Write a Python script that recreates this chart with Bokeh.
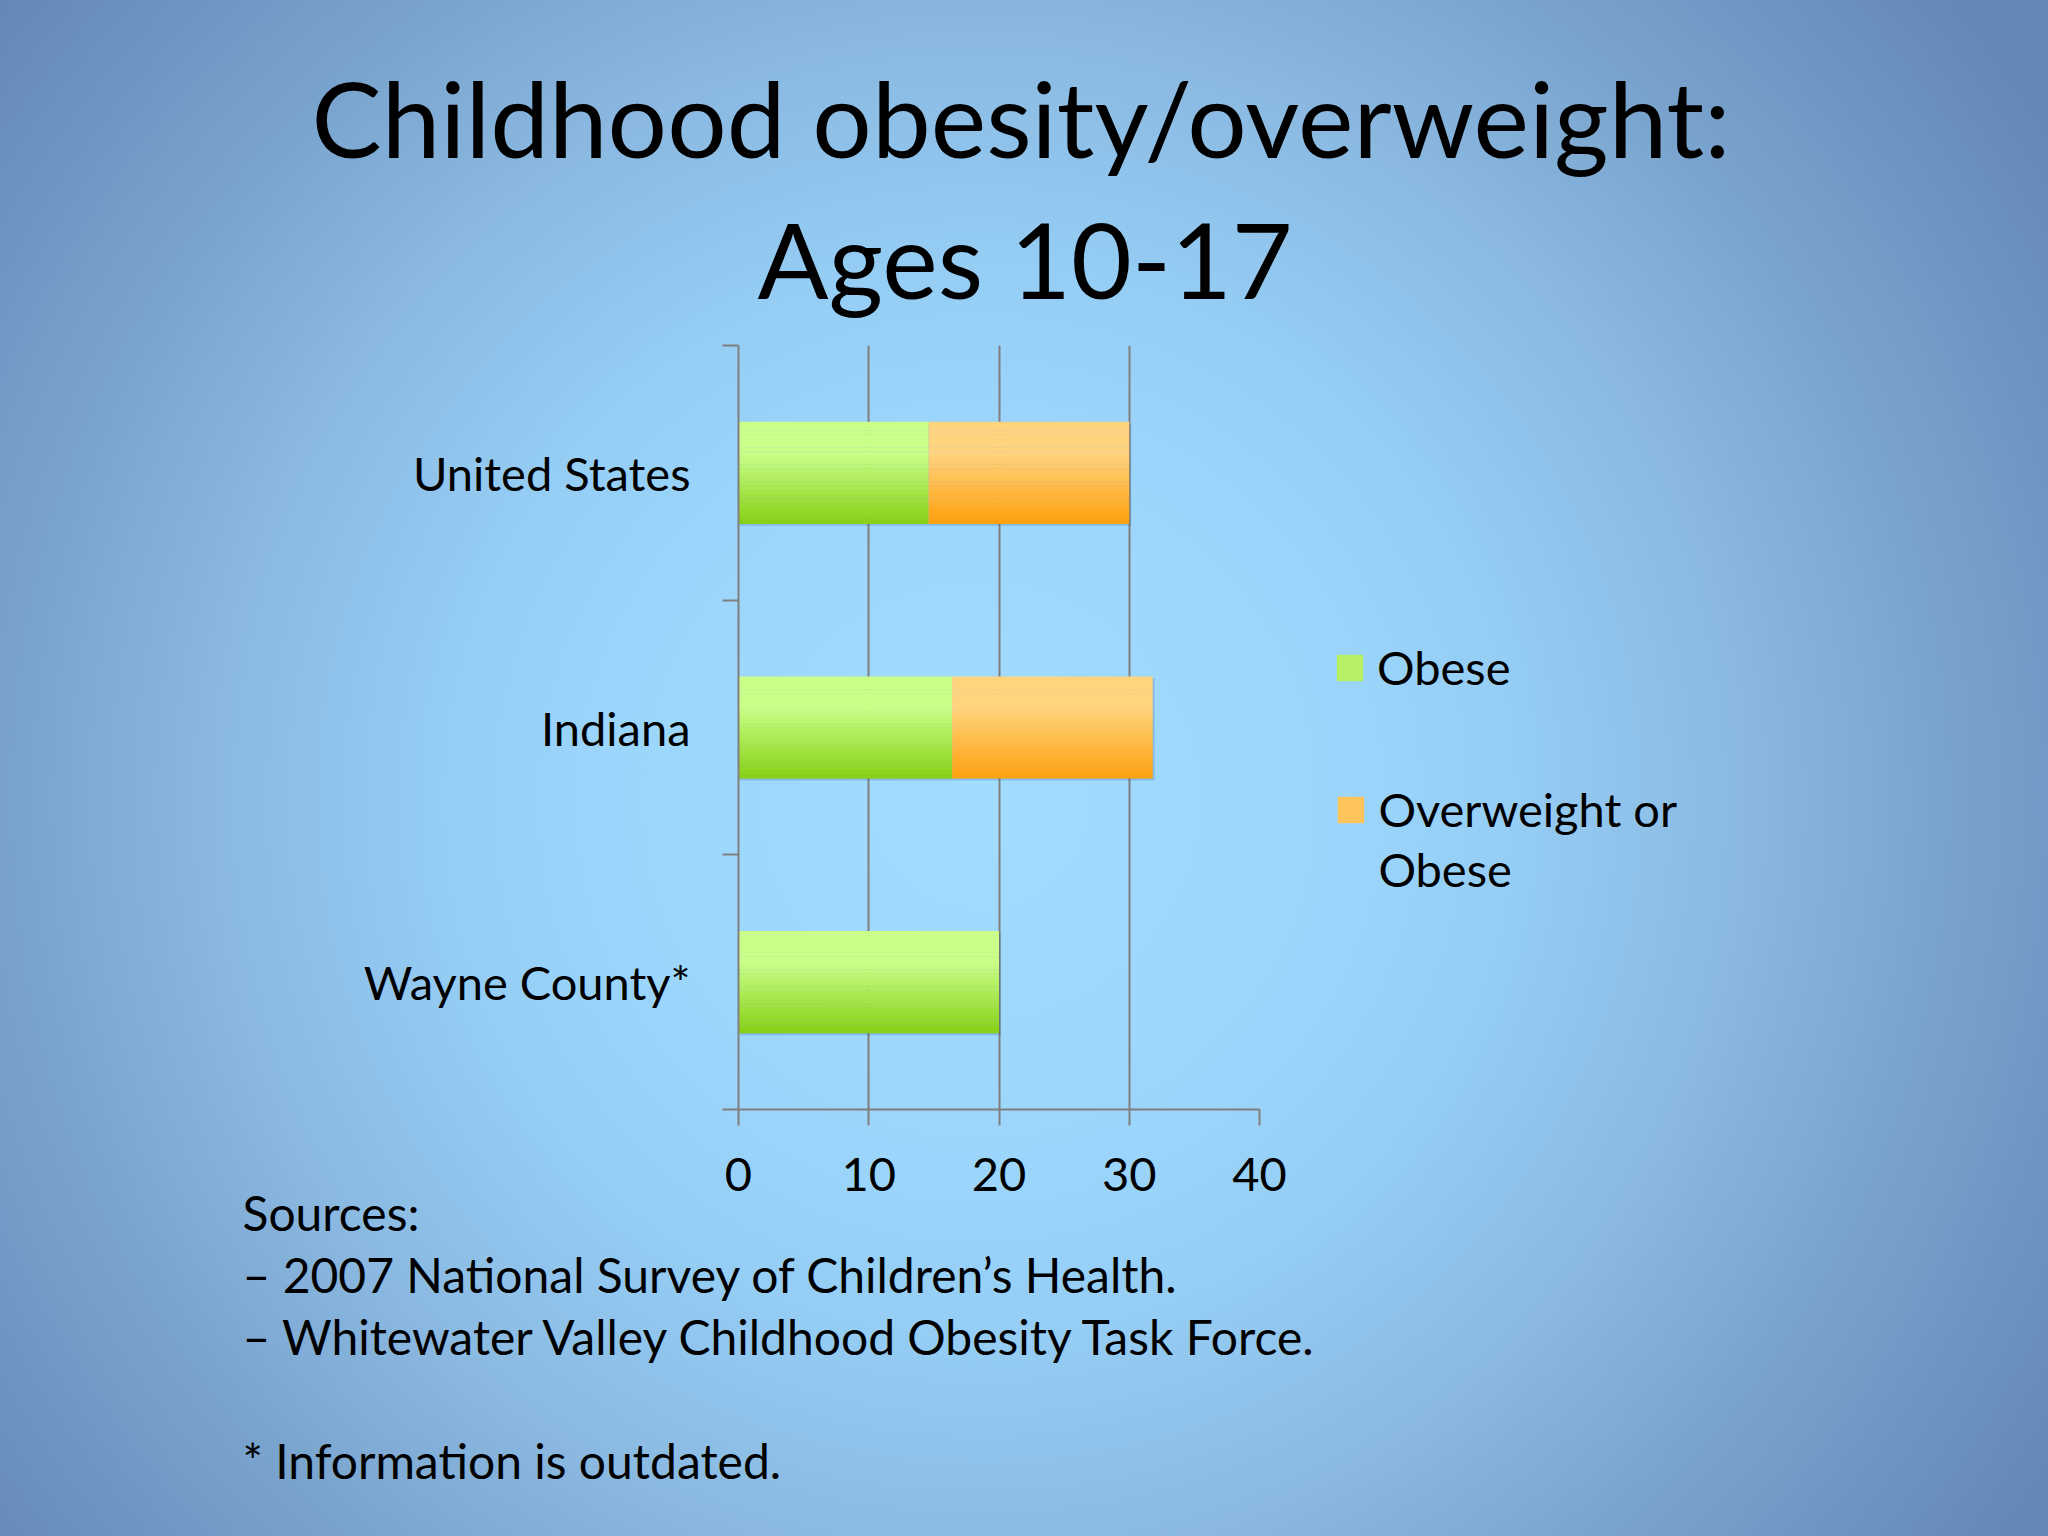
from bokeh.plotting import figure
from bokeh.models import Range1d, FixedTicker, Legend, LegendItem, Title
from bokeh.embed import file_html
from bokeh.resources import INLINE

# ---- data -------------------------------------------------------------
categories = ["United States", "Indiana", "Wayne County*"]
obese = [14.6, 16.4, 20.0]
overweight_or_obese = [15.4, 15.4, 0.0]   # stacked after the obese share
x_ticks = [0, 10, 20, 30, 40]
series_names = ["Obese", "Overweight or", "Obese"]
title_lines = ["Childhood obesity/overweight:", "Ages 10-17"]
source_text = ("Sources:\n"
               "\u2013 2007 National Survey of Children\u2019s Health.\n"
               "\u2013 Whitewater Valley Childhood Obesity Task Force.\n"
               "\n"
               "* Information is outdated.")

# ---- styling ----------------------------------------------------------
FONT = "Lato"
LEFT, RIGHT, TOP, BOTTOM = 738, 789, 345, 427
FRAME_W, FRAME_H = 521, 764
AXIS_GREY = "#7f7f7f"
LABEL_SIZE = "47px"
NOTE_SIZE = "48px"
HEAD_SIZE = "105px"
BAR_H = 0.4
STRIPS = 24
GREEN = ("#cbff8a", "#86d014")
ORANGE = ("#ffd47e", "#ffa00e")


def hex_rgb(c):
    c = c.lstrip("#")
    return [int(c[i:i + 2], 16) for i in (0, 2, 4)]


def ramp(top, bottom, t):
    s = max(0.0, (t - 0.3) / 0.7)
    a, b = hex_rgb(top), hex_rgb(bottom)
    return "#%02x%02x%02x" % tuple(round(a[i] + (b[i] - a[i]) * s) for i in range(3))


n = len(categories)
y_pos = [n - i - 0.5 for i in range(n)]

p = figure(
    frame_width=FRAME_W, frame_height=FRAME_H,
    x_range=Range1d(0, 40), y_range=Range1d(0, n),
    output_backend="svg", toolbar_location=None,
    min_border_left=LEFT, min_border_right=RIGHT,
    min_border_top=TOP, min_border_bottom=BOTTOM,
)
p.styles = {
    "background": "radial-gradient(circle 1280px at 980px 800px, "
                  "#a2ddff 0%, #9bd5fb 30%, #95cdf5 42%, #8ab8e0 60%, "
                  "#7aa5cf 74%, #6386b5 100%)",
}
p.background_fill_alpha = 0
p.border_fill_alpha = 0
p.outline_line_color = None

stack_top = [obese[i] + overweight_or_obese[i] for i in range(n)]

# soft drop shadow under each whole bar
p.hbar(y=[y - 0.008 for y in y_pos], left=[0.1] * n,
       right=[v + 0.15 for v in stack_top], height=BAR_H,
       fill_color="#1a3a5a", fill_alpha=0.18, line_color=None)


def draw_series(lefts, rights, colors):
    keep = [i for i in range(n) if rights[i] - lefts[i] > 0]
    mid = None
    for k in range(STRIPS):
        t = (k + 0.5) / STRIPS
        ys = [y_pos[i] + BAR_H / 2 - t * BAR_H for i in keep]
        r = p.hbar(
            y=ys,
            left=[lefts[i] for i in keep],
            right=[rights[i] for i in keep],
            height=BAR_H / STRIPS * 1.08,
            fill_color=ramp(colors[0], colors[1], t),
            line_color=None,
        )
        if k == STRIPS // 2:
            mid = r
    return mid


r_obese = draw_series([0.0] * n, obese, GREEN)
r_over = draw_series(obese, stack_top, ORANGE)
# empty, transparent renderer: lets the wrapped legend line carry no swatch
r_blank = p.hbar(y=[], left=[], right=[], height=0.1, fill_alpha=0, line_alpha=0)

# ---- axes -------------------------------------------------------------
xa = p.xaxis[0]
xa.ticker = FixedTicker(ticks=x_ticks)
xa.axis_line_color = AXIS_GREY
xa.axis_line_width = 2
xa.major_tick_line_color = AXIS_GREY
xa.major_tick_line_width = 2
xa.major_tick_in = 0
xa.major_tick_out = 16
xa.minor_tick_line_color = None
xa.major_label_text_font = FONT
xa.major_label_text_font_size = LABEL_SIZE
xa.major_label_text_color = "#000000"
xa.major_label_standoff = 32

ya = p.yaxis[0]
ya.ticker = FixedTicker(ticks=y_pos, minor_ticks=list(range(n + 1)))
ya.major_label_overrides = {y_pos[i]: categories[i] for i in range(n)}
ya.axis_line_color = AXIS_GREY
ya.axis_line_width = 2
ya.major_tick_line_color = None
ya.major_tick_out = 0
ya.major_tick_in = 0
ya.minor_tick_line_color = AXIS_GREY
ya.minor_tick_line_width = 2
ya.minor_tick_in = 0
ya.minor_tick_out = 16
ya.major_label_text_font = FONT
ya.major_label_text_font_size = LABEL_SIZE
ya.major_label_text_color = "#000000"
ya.major_label_standoff = 32

p.xgrid.grid_line_color = AXIS_GREY
p.xgrid.grid_line_width = 2
p.ygrid.grid_line_color = None

# ---- legend (two blocks so the wrapped label keeps its swatch on line one)
GLYPH = 33
STANDOFF = 11
legend_style = dict(
    orientation="vertical",
    glyph_width=GLYPH, glyph_height=GLYPH,
    label_standoff=STANDOFF,
    label_text_font=FONT, label_text_font_size=LABEL_SIZE,
    label_text_color="#000000",
    padding=0, margin=0,
    border_line_color=None, background_fill_alpha=0,
)
leg_a = Legend(items=[LegendItem(label=series_names[0], renderers=[r_obese])],
               location=(74, 414), spacing=0, **legend_style)
leg_b = Legend(items=[LegendItem(label=series_names[1], renderers=[r_over]),
                      LegendItem(label=series_names[2], renderers=[r_blank])],
               location=(-569, 212), spacing=4, **legend_style)
p.add_layout(leg_a, "right")
p.add_layout(leg_b, "right")

# ---- heading and notes ------------------------------------------------
p.add_layout(Title(text=title_lines[1], align="left", offset=19,
                   vertical_align="bottom", standoff=50,
                   text_font=FONT, text_font_size=HEAD_SIZE,
                   text_font_style="normal", text_color="#000000"), "above")
p.add_layout(Title(text=title_lines[0], align="left", offset=-427,
                   vertical_align="bottom", standoff=-25,
                   text_font=FONT, text_font_size=HEAD_SIZE,
                   text_font_style="normal", text_color="#000000"), "above")
p.add_layout(Title(text=source_text, align="left", offset=-496,
                   vertical_align="top", standoff=-20,
                   text_font=FONT, text_font_size=NOTE_SIZE,
                   text_line_height=1.09,
                   text_font_style="normal", text_color="#000000"), "below")

html = file_html(p, INLINE)
open("out.html", "w").write(html)
